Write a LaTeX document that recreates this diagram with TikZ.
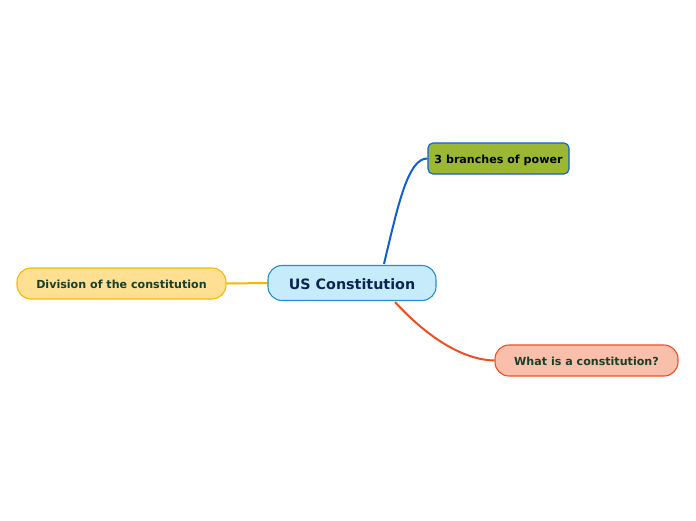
\documentclass[tikz,border=0pt]{standalone}
\usepackage{fontspec}
\setmainfont{DejaVu Sans}
\usetikzlibrary{backgrounds}
\definecolor{cblueF}{HTML}{C6ECFC}
\definecolor{cblueD}{HTML}{2A8AD0}
\definecolor{cnavy}{HTML}{0B2452}
\definecolor{cgreenF}{HTML}{9BB733}
\definecolor{cbranchB}{HTML}{0F5FD0}
\definecolor{cyelF}{HTML}{FFDF91}
\definecolor{cyelD}{HTML}{F7B800}
\definecolor{cdkgreen}{HTML}{17402B}
\definecolor{csalF}{HTML}{F9BFAB}
\definecolor{csalD}{HTML}{F04E20}
\begin{document}
\begin{tikzpicture}[x=1pt,y=-1pt,
  topic/.style={draw, line width=1.1pt, font=\bfseries\fontsize{11.1}{12}\selectfont, text=cdkgreen, inner sep=0pt, minimum height=31pt, text height=10pt, text depth=0.5pt},
  conn/.style={line width=2pt}]
\useasboundingbox (0,0) rectangle (696,520);
\node[draw=cblueD, fill=cblueF, line width=1.1pt, rounded corners=14pt, minimum width=168pt, minimum height=35pt, inner sep=0pt, font=\bfseries\fontsize{14.3}{15}\selectfont, text=cnavy, text height=13pt, text depth=0.6pt] (c) at (352,283) {US Constitution};
\node[topic, draw=cbranchB, fill=cgreenF, rounded corners=5pt, minimum width=141pt, text=black] (b) at (498.5,158.5) {3 branches of power};
\node[topic, draw=cyelD, fill=cyelF, rounded corners=14pt, minimum width=209pt] (d) at (121.5,283.5) {Division of the constitution};
\node[topic, draw=csalD, fill=csalF, rounded corners=14pt, minimum width=183pt] (w) at (586.5,360.5) {What is a constitution?};
\begin{scope}[on background layer]
\draw[conn, cbranchB] ([xshift=32pt,yshift=1pt]c.north) .. controls (398,205) and (408,158) .. (b.west);
\draw[conn, csalD] ([xshift=43pt,yshift=-1pt]c.south) .. controls (430,340) and (465,360) .. (w.west);
\draw[conn, cyelD] (d.east) -- (c.west);
\end{scope}
\end{tikzpicture}
\end{document}
